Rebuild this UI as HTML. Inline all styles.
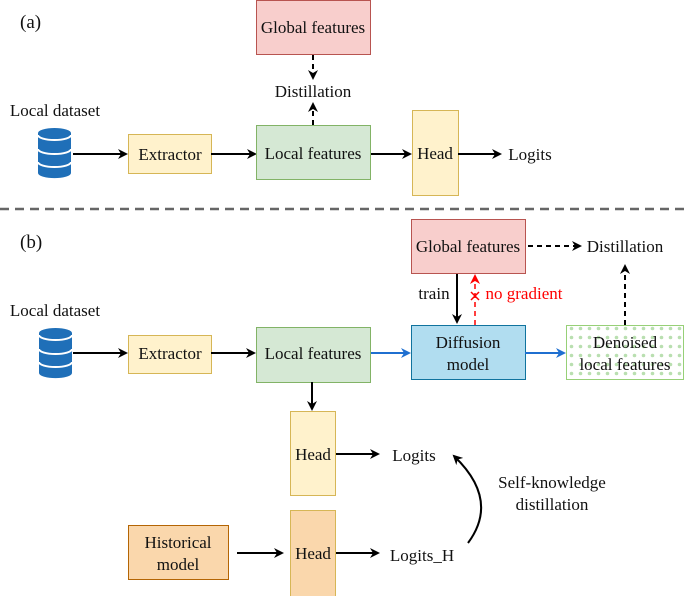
<!DOCTYPE html>
<html><head><style>body{margin:0;background:#fff}svg{display:block}</style></head>
<body>
<svg width="685" height="596" viewBox="0 0 685 596" xmlns="http://www.w3.org/2000/svg" font-family="'Liberation Serif', 'Times New Roman', 'DejaVu Serif', serif" font-size="17" fill="#111">
<defs>
<marker id="ab" markerWidth="10" markerHeight="10" refX="8" refY="5" orient="auto" markerUnits="userSpaceOnUse"><path d="M0,0 L10,5 L0,10 L3,5 Z" fill="#000"/></marker>
<marker id="abl" markerWidth="10" markerHeight="10" refX="8" refY="5" orient="auto" markerUnits="userSpaceOnUse"><path d="M0,0 L10,5 L0,10 L3,5 Z" fill="#1f6fd0"/></marker>
<marker id="ar" markerWidth="10" markerHeight="10" refX="8" refY="5" orient="auto" markerUnits="userSpaceOnUse"><path d="M0,0 L10,5 L0,10 L3,5 Z" fill="#f00"/></marker>
<pattern id="dots" width="9" height="9" patternUnits="userSpaceOnUse"><circle cx="4.5" cy="4.5" r="1.8" fill="#b9dfb0"/></pattern>
<g id="db"><path d="M0,5 v40 a16,5 0 0 0 33,0 v-40" fill="#1f6fb8"/><ellipse cx="16.5" cy="5" rx="16.5" ry="5" fill="#1f6fb8"/><path d="M0,7 a16.5,5 0 0 0 33,0 M0,21 a16.5,5 0 0 0 33,0 M0,34 a16.5,5 0 0 0 33,0" stroke="#fff" stroke-width="2" fill="none"/></g>
</defs>
<g text-anchor="middle">
<text x="20" y="28" text-anchor="start" font-size="19">(a)</text>
<rect x="256.5" y="0.5" width="114" height="54" fill="#f8cecc" stroke="#b85450"/>
<text x="313" y="33">Global features</text>
<line x1="313" y1="55" x2="313" y2="78" stroke="#000" stroke-width="2" stroke-dasharray="5,4" marker-end="url(#ab)"/>
<text x="313" y="97">Distillation</text>
<line x1="313" y1="125" x2="313" y2="104" stroke="#000" stroke-width="2" stroke-dasharray="5,4" marker-end="url(#ab)"/>
<text x="55" y="116">Local dataset</text>
<use href="#db" x="38" y="128"/>
<line x1="73" y1="154" x2="126" y2="154" stroke="#000" stroke-width="2" marker-end="url(#ab)"/>
<rect x="128.5" y="134.5" width="83" height="39" fill="#fff2cc" stroke="#d6b656"/>
<text x="170" y="160">Extractor</text>
<line x1="211" y1="154" x2="255" y2="154" stroke="#000" stroke-width="2" marker-end="url(#ab)"/>
<rect x="256.5" y="125.5" width="114" height="54" fill="#d5e8d4" stroke="#82b366"/>
<text x="313" y="159">Local features</text>
<line x1="371" y1="154" x2="410" y2="154" stroke="#000" stroke-width="2" marker-end="url(#ab)"/>
<rect x="412.5" y="110.5" width="46" height="85" fill="#fff2cc" stroke="#d6b656"/>
<text x="435" y="159">Head</text>
<line x1="458" y1="154" x2="500" y2="154" stroke="#000" stroke-width="2" marker-end="url(#ab)"/>
<text x="530" y="160">Logits</text>
<line x1="0" y1="209" x2="685" y2="209" stroke="#666" stroke-width="2.5" stroke-dasharray="9,6"/>
<text x="20" y="248" text-anchor="start" font-size="19">(b)</text>
<text x="55" y="316">Local dataset</text>
<use href="#db" x="39" y="328"/>
<line x1="73" y1="353" x2="126" y2="353" stroke="#000" stroke-width="2" marker-end="url(#ab)"/>
<rect x="128.5" y="335.5" width="83" height="38" fill="#fff2cc" stroke="#d6b656"/>
<text x="170" y="359">Extractor</text>
<line x1="211" y1="353" x2="254" y2="353" stroke="#000" stroke-width="2" marker-end="url(#ab)"/>
<rect x="256.5" y="327.5" width="114" height="55" fill="#d5e8d4" stroke="#82b366"/>
<text x="313" y="359">Local features</text>
<line x1="371" y1="353" x2="409" y2="353" stroke="#1f6fd0" stroke-width="2" marker-end="url(#abl)"/>
<rect x="411.5" y="219.5" width="114" height="54" fill="#f8cecc" stroke="#b85450"/>
<text x="468" y="252">Global features</text>
<line x1="528" y1="246" x2="580" y2="246" stroke="#000" stroke-width="2" stroke-dasharray="5,4" marker-end="url(#ab)"/>
<text x="625" y="252">Distillation</text>
<text x="434" y="299">train</text>
<line x1="457" y1="274" x2="457" y2="322" stroke="#000" stroke-width="2" marker-end="url(#ab)"/>
<line x1="475" y1="325" x2="475" y2="276" stroke="#f00" stroke-width="1.5" stroke-dasharray="5,4" marker-end="url(#ar)"/>
<path d="M471,292 L479,300 M479,292 L471,300" stroke="#f00" stroke-width="1.5"/>
<text x="524" y="299" fill="#f00">no gradient</text>
<rect x="411.5" y="325.5" width="114" height="54" fill="#b1ddf0" stroke="#10739e"/>
<text x="468" y="348">Diffusion</text>
<text x="468" y="370">model</text>
<line x1="525" y1="353" x2="564" y2="353" stroke="#1f6fd0" stroke-width="2" marker-end="url(#abl)"/>
<rect x="566.5" y="325.5" width="117" height="54" fill="url(#dots)" stroke="#97d077"/>
<text x="625" y="348">Denoised</text>
<text x="625" y="370">local features</text>
<line x1="625" y1="325" x2="625" y2="266" stroke="#000" stroke-width="2" stroke-dasharray="5,4" marker-end="url(#ab)"/>
<line x1="312" y1="382" x2="312" y2="409" stroke="#000" stroke-width="2" marker-end="url(#ab)"/>
<rect x="290.5" y="411.5" width="45" height="84" fill="#fff2cc" stroke="#d6b656"/>
<text x="313" y="460">Head</text>
<line x1="336" y1="454" x2="378" y2="454" stroke="#000" stroke-width="2" marker-end="url(#ab)"/>
<text x="414" y="461">Logits</text>
<rect x="128.5" y="525.5" width="100" height="54" fill="#fad7ac" stroke="#b46504"/>
<text x="178" y="548">Historical</text>
<text x="178" y="570">model</text>
<line x1="237" y1="553" x2="282" y2="553" stroke="#000" stroke-width="2" marker-end="url(#ab)"/>
<rect x="290.5" y="510.5" width="45" height="86" fill="#fad7ac" stroke="#d6b656"/>
<text x="313" y="559">Head</text>
<line x1="336" y1="553" x2="378" y2="553" stroke="#000" stroke-width="2" marker-end="url(#ab)"/>
<text x="422" y="561">Logits_H</text>
<path d="M468,543 Q500,500 454,456" fill="none" stroke="#000" stroke-width="2" marker-end="url(#ab)"/>
<text x="552" y="488">Self-knowledge</text>
<text x="552" y="510">distillation</text>
</g>
</svg>
</body></html>
